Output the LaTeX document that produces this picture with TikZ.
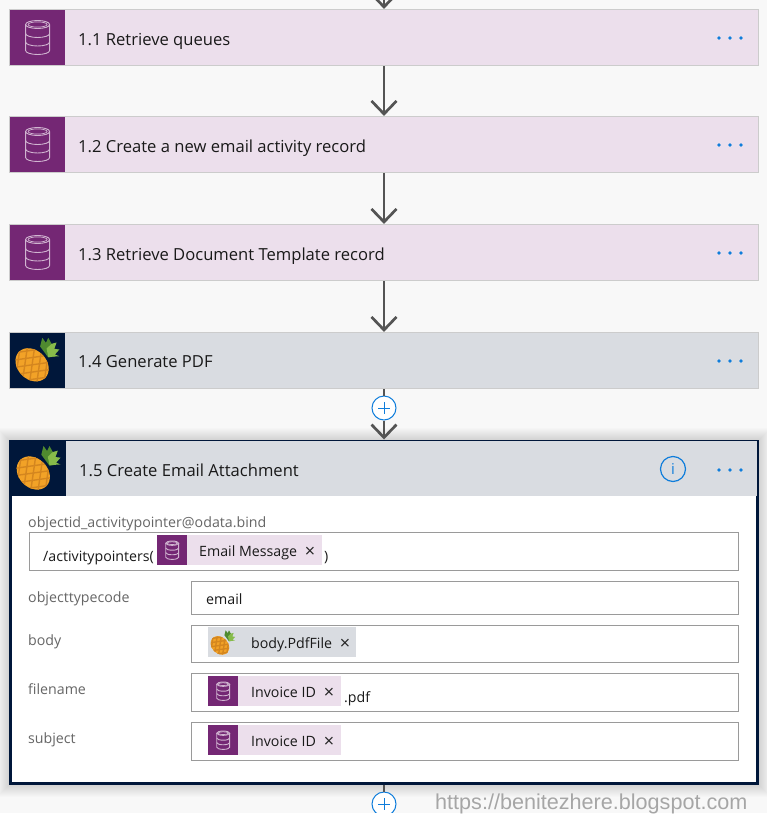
\documentclass[tikz,border=0pt]{standalone}
\usepackage{fontspec}
\setmainfont{Open Sans}
\newfontfamily\urlfont{Liberation Sans}
\usetikzlibrary{arrows.meta}
\definecolor{pagegray}{HTML}{F8F8F8}
\definecolor{dbpurple}{HTML}{742774}
\definecolor{dbpale}{HTML}{ECDFEC}
\definecolor{dbline}{HTML}{D0B4D0}
\definecolor{pdfnavy}{HTML}{00173A}
\definecolor{pdfgray}{HTML}{D9DCE1}
\definecolor{flowblue}{HTML}{0F7DDB}
\definecolor{fieldgray}{HTML}{9A9A9A}
\definecolor{labelgray}{HTML}{666666}
\definecolor{pinebody}{HTML}{F2A227}
\definecolor{pineline}{HTML}{D4861F}
\definecolor{leafdark}{HTML}{4F8A2F}
\definecolor{leaflight}{HTML}{86BB4A}
\tikzset{
	card/.style={draw=black!20, line width=1.2pt, minimum width=749pt, minimum height=56pt, inner sep=0pt},
	iconbox/.style={minimum width=55pt, minimum height=55pt, inner sep=0pt, anchor=west},
	cardtitle/.style={anchor=base west, inner sep=0pt, font=\fontsize{16.6}{18}\selectfont, text=black!90},
	flowline/.style={draw=black!67, line width=2.7pt},
	flowarrow/.style={flowline, -{Straight Barb[length=13pt,width=25pt,line width=2.7pt]}},
	addbtn/.style={circle, draw=flowblue, fill=white, line width=1pt, minimum size=24pt, inner sep=0pt},
	fieldbox/.style={draw=fieldgray, line width=1pt, fill=white, anchor=north west, inner sep=0pt},
	fieldlabel/.style={anchor=base west, inner sep=0pt, font=\fontsize{14.2}{16}\selectfont, text=labelgray},
	fieldtext/.style={anchor=base west, inner sep=0pt, font=\fontsize{14.2}{16}\selectfont, text=black!90},
	token/.style={anchor=north west, minimum height=30pt, inner sep=0pt},
	tokenx/.style={inner sep=0pt, font=\fontsize{18}{18}\selectfont, text=black!85},
	pics/dbicon/.style={code={
		\draw[dbline, line width=.9pt] (0,-13) ellipse (12 and 4);
		\draw[dbline, line width=.7pt] (0,-13) ellipse (9.5 and 2.6);
		\draw[dbline, line width=.9pt] (-12,-13) -- (-12,13) arc[start angle=180, end angle=0, x radius=12, y radius=4] -- (12,-13);
		\foreach \b in {-4,4.5} {
			\draw[dbline, line width=.9pt] (-12,\b) arc[start angle=180, end angle=0, x radius=12, y radius=4];
		}
	}},
	pics/pineapple/.style={code={
		\fill[leafdark] (2.5,-14) -- (4.7,-22.7) -- (8.3,-17.7) -- (10.7,-22.7) -- (14,-16.7) -- (16,-10) -- (17,-4) -- (10.7,-3) -- cycle;
		\fill[leaflight] (9,-12) -- (14,-16.7) -- (19,-18) -- (16.7,-11.7) -- (21.7,-11) -- (17.3,-6) -- (21.7,-4.3) -- (10.7,-3.5) -- cycle;
		\begin{scope}[shift={(-5.5,4.3)}, rotate=-45]
			\fill[pinebody] (0,0) ellipse (18.5 and 14.5);
			\clip (0,0) ellipse (18.5 and 14.5);
			\foreach \k in {-27,-18,...,27} {
				\draw[pineline, line width=1.4pt] (\k-12,-16) -- (\k+12,16);
				\draw[pineline, line width=1.4pt] (\k+12,-16) -- (\k-12,16);
			}
		\end{scope}
	}},
	pics/moredots/.style={code={
		\foreach \d in {-11,0,11} {
			\fill[flowblue] (\d,0) circle (1.8);
		}
	}}
}
\begin{document}
\begin{tikzpicture}[x=1pt, y=-1pt]
	\useasboundingbox (0,0) rectangle (767,825);
	\fill[pagegray] (0,0) rectangle (767,813);

	\coordinate (topend) at (384,0);
	\foreach \n/\y/\b/\t in {1/37.5/45/1.1 Retrieve queues, 2/144.5/152/1.2 Create a new email activity record, 3/252.5/260/1.3 Retrieve Document Template record} {
		\node[card, fill=dbpale] (c\n) at (384,\y) {};
		\node[iconbox, fill=dbpurple] (i\n) at ([xshift=1pt]c\n.west) {};
		\pic at (i\n) {dbicon};
		\node[cardtitle] (t\n) at (78,\b) {\t};
		\pic at (730,\y+.5) {moredots};
	}
	\node[card, fill=pdfgray] (c4) at (384,360.5) {};
	\node[iconbox, fill=pdfnavy] (i4) at ([xshift=1pt]c4.west) {};
	\pic at (i4) {pineapple};
	\node[cardtitle] (t4) at (78,367) {1.4 Generate PDF};
	\pic at (730,361) {moredots};

	% shadow under the open card
	\foreach \s in {1,...,12} {
		\fill[black, opacity=.011] (9-\s,440-\s) rectangle (759+\s,784+\s+1);
	}
	\node[draw=pdfnavy, fill=white, line width=3pt, minimum width=747pt, minimum height=342pt, inner sep=0pt] (c5) at (384,612) {};
	\node[minimum width=691pt, minimum height=55pt, inner sep=0pt, fill=pdfgray, anchor=north east] (h5) at (757.5,441) {};
	\node[iconbox, fill=pdfnavy] (i5) at ([xshift=-55pt]h5.west) {};
	\pic at (i5) {pineapple};
	\node[cardtitle] (t5) at (79,476) {1.5 Create Email Attachment};
	\node[circle, draw=flowblue, line width=1.2pt, minimum size=25pt, inner sep=0pt, text=flowblue, font=\fontsize{15}{15}\selectfont] (info) at (673,469) {i};
	\pic at (730,470) {moredots};

	\draw[flowarrow] (topend) -- (c1);
	\foreach \a/\b in {1/2,2/3,3/4} {
		\draw[flowarrow] (c\a) -- (c\b);
	}
	\node[addbtn] (addA) at (384,408) {};
	\node[addbtn] (addB) at (384,804) {};
	\draw[flowline] (c4) -- (addA);
	\draw[flowarrow] (addA) -- (c5);
	\draw[flowline] (c5) -- (addB);
	\foreach \p in {addA,addB} {
		\draw[flowblue, line width=1pt] (\p.center) +(-6,0) -- +(6,0) (\p.center) +(0,-6) -- +(0,6);
	}

	% fields
	\node[fieldlabel] (l1) at (28,527) {objectid\_activitypointer@odata.bind};
	\node[fieldbox, minimum width=709pt, minimum height=38pt] (f1) at (29,532) {};
	\node[fieldtext] (v1) at (43,561) {/activitypointers(};
	\node[token, fill=dbpale, minimum width=165pt] (k1) at (157,535) {};
	\node[token, fill=dbpurple, minimum width=30pt] (ki1) at (157,535) {};
	\pic[scale=.54] at (ki1) {dbicon};
	\node[fieldtext] (kt1) at (199,556) {Email Message};
	\node[tokenx] (kx1) at (310,552) {×};
	\node[fieldtext] (v1b) at (324,561) {)};

	\node[fieldlabel] (l2) at (28,602) {objecttypecode};
	\node[fieldbox, minimum width=547pt, minimum height=33pt] (f2) at (191,581) {};
	\node[fieldtext] (v2) at (206,604) {email};

	\node[fieldlabel] (l3) at (28,645) {body};
	\node[fieldbox, minimum width=547pt, minimum height=37pt] (f3) at (191,625) {};
	\node[token, fill=pdfgray, minimum width=148pt] (k3) at (208,627) {};
	\pic[scale=.56] at (223,643) {pineapple};
	\node[fieldtext] (kt3) at (251,648) {body.PdfFile};
	\node[tokenx] (kx3) at (345,644) {×};

	\foreach \n/\name/\top in {4/filename/673, 5/subject/722} {
		\node[fieldlabel] (l\n) at (28,\top+21) {\name};
		\node[fieldbox, minimum width=547pt, minimum height=38pt] (f\n) at (191,\top) {};
		\node[token, fill=dbpale, minimum width=133pt] (k\n) at (208,\top+3) {};
		\node[token, fill=dbpurple, minimum width=30pt] (ki\n) at (208,\top+3) {};
		\pic[scale=.54] at (ki\n) {dbicon};
		\node[fieldtext] (kt\n) at (251,\top+24) {Invoice ID};
		\node[tokenx] (kx\n) at (329,\top+20) {×};
	}
	\node[fieldtext] (v4) at (344,702) {.pdf};

	\fill[white] (0,813) rectangle (767,825);
	\node[anchor=base west, inner sep=0pt, text=black!35, font=\urlfont\fontsize{21.6}{23}\selectfont] (url) at (435,809) {https://benitezhere.blogspot.com};
\end{tikzpicture}
\end{document}
